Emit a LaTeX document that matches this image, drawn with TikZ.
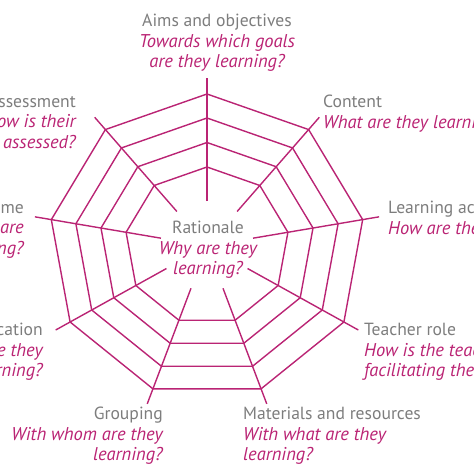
\documentclass[tikz,border=0pt]{standalone}
\usepackage{fontspec}
\setmainfont{PT Sans}
\usepackage{xcolor}
\definecolor{spider}{RGB}{186, 36, 116}
\definecolor{labelgray}{RGB}{125, 125, 125}
\newcommand{\ask}[1]{{\fontsize{18.5}{20.5}\selectfont\itshape\color{spider}#1}}

\begin{document}
\begin{tikzpicture}[x=1pt,y=1pt,
  web/.style={draw=spider, line width=1.4pt},
  lbl/.style={text=labelgray, inner sep=0pt, font=\fontsize{17.6}{20.5}\selectfont}]
\useasboundingbox (-207,-228) rectangle (267,246);
% Rings of the web
\foreach \r in {79,103.5,128,152} {
    \draw[web] ({1.04*\r*cos(90)},{\r*sin(90)})
      \foreach \a in {130,170,...,410} { -- ({1.04*\r*cos(\a)},{\r*sin(\a)}) } -- cycle;
}
% Spokes
\foreach \a in {90,50,10,-30,-70,-110,-150,170,130} {
    \draw[web] ({1.04*45*cos(\a)},{45*sin(\a)}) -- ({1.04*168*cos(\a)},{168*sin(\a)});
}
% Centre
\node[lbl, align=center] (rationale) at (1,-4) {Rationale\\ \ask{Why are they}\\ \ask{learning?}};
% Components
\node[lbl, align=center] (aims) at (10,203) {Aims and objectives\\ \ask{Towards which goals}\\ \ask{are they learning?}};
\node[lbl, align=left, anchor=west] (content) at (116,132.5) {Content\\ \ask{What are they learning?}};
\node[lbl, align=left, anchor=west] (activities) at (181,26.5) {Learning activities\\ \ask{How are they learning?}};
\node[lbl, align=left, anchor=west] (teacher) at (157,-106) {Teacher role\\ \ask{How is the teacher}\\ \ask{facilitating their learning?}};
\node[lbl, align=left, anchor=west] (materials) at (36,-190) {Materials and resources\\ \ask{With what are they}\\ \ask{learning?}};
\node[lbl, align=right, anchor=east] (grouping) at (-44,-190) {Grouping\\ \ask{With whom are they}\\ \ask{learning?}};
\node[lbl, align=right, anchor=east] (location) at (-164,-106) {Location\\ \ask{Where are they}\\ \ask{learning?}};
\node[lbl, align=right, anchor=east] (time) at (-183,16.5) {Time\\ \ask{When are}\\ \ask{they learning?}};
\node[lbl, align=right, anchor=east] (assessment) at (-131,122.5) {Assessment\\ \ask{How is their}\\ \ask{learning assessed?}};
\end{tikzpicture}
\end{document}
